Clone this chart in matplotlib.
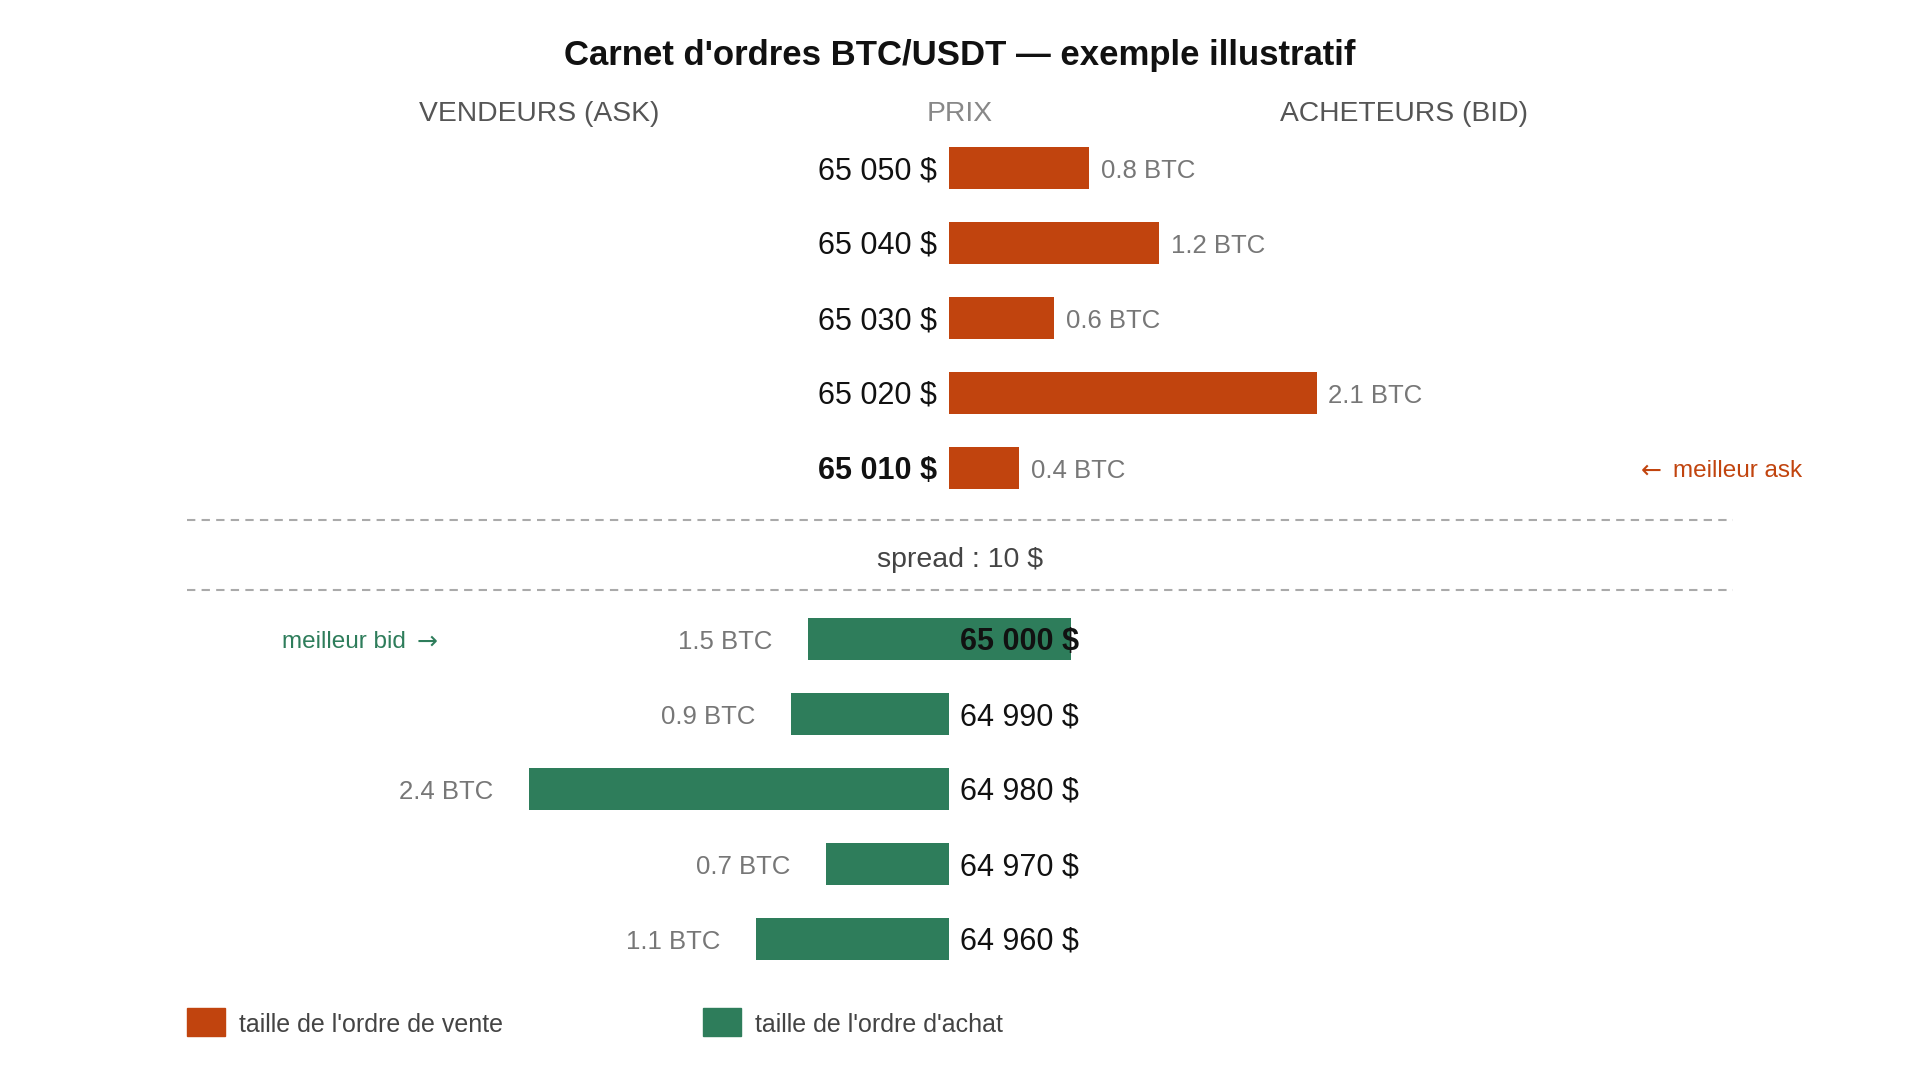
import matplotlib
matplotlib.use("Agg")
import matplotlib.pyplot as plt
from matplotlib.patches import Rectangle

# order book data
ask_prices = ["65 050 $", "65 040 $", "65 030 $", "65 020 $", "65 010 $"]
ask_sizes = [0.8, 1.2, 0.6, 2.1, 0.4]
bid_prices = ["65 000 $", "64 990 $", "64 980 $", "64 970 $", "64 960 $"]
bid_sizes = [1.5, 0.9, 2.4, 0.7, 1.1]
spread_label = "spread : 10 $"

ASK_COL = "#c1440e"
BID_COL = "#2e7d5b"

plt.rcParams['font.family'] = ['Liberation Sans', 'DejaVu Sans']

W, H = 1920, 1077
PX = 175.0      # pixels per BTC
X0 = 949.0      # centre line, px
DY = 3          # text nudge so glyphs sit centred on bars


def bx(px):
    return (px - X0) / PX


fig = plt.figure(figsize=(W / 100, H / 100), dpi=100)
ax = fig.add_axes([0, 0, 1, 1])
ax.set_xlim(bx(0), bx(W))
ax.set_ylim(H, 0)
ax.axis('off')

ask_y = [168 + 75 * i for i in range(len(ask_sizes))]
bid_y = [639 + 75 * i for i in range(len(bid_sizes))]
bh = 42

# asks
ax.barh(ask_y, ask_sizes, height=bh, left=0, color=ASK_COL)
for i, (p, s, y) in enumerate(zip(ask_prices, ask_sizes, ask_y)):
    best = i == len(ask_sizes) - 1
    ax.text(bx(937), y + DY, p, ha='right', va='center', fontsize=22, color='#111111',
            fontweight='bold' if best else 'normal')
    ax.text(s + 12 / PX, y + DY, f"{s} BTC", ha='left', va='center', fontsize=18.5, color='#777777')

# bids (the best bid bar is drawn slightly shifted in the original)
shift = [122 / PX, 0, 0, 0, 0]
lefts = [-s + d for s, d in zip(bid_sizes, shift)]
ax.barh(bid_y, bid_sizes, height=bh, left=lefts, color=BID_COL)
for i, (p, s, y, l) in enumerate(zip(bid_prices, bid_sizes, bid_y, lefts)):
    ax.text(bx(960), y + DY, p, ha='left', va='center', fontsize=22, color='#111111',
            fontweight='bold' if i == 0 else 'normal', zorder=5)
    ax.text(l - 36 / PX, y + DY, f"{s} BTC", ha='right', va='center', fontsize=18.5, color='#777777')

# spread lines
for yl in (520, 590):
    ax.plot([bx(187), bx(1733)], [yl, yl], color='#aaaaaa', lw=1.5, ls=(0, (4, 3)))
ax.text(bx(960), 557 + DY, spread_label, ha='center', va='center', fontsize=20.5, color='#444444')

# best ask / best bid markers
ax.text(bx(1641), ask_y[-1] + DY, "←", ha='left', va='center', fontsize=18,
        color=ASK_COL, family='DejaVu Sans')
ax.text(bx(1673), ask_y[-1] + DY, "meilleur ask", ha='left', va='center', fontsize=17.5, color=ASK_COL)
ax.text(bx(282), bid_y[0] + DY, "meilleur bid", ha='left', va='center', fontsize=17.5, color=BID_COL)
ax.text(bx(438), bid_y[0] + DY, "→", ha='right', va='center', fontsize=18,
        color=BID_COL, family='DejaVu Sans')

# headers
fig.text(960 / W, 1 - (53 + DY) / H, "Carnet d'ordres BTC/USDT — exemple illustratif",
         ha='center', va='center', fontsize=25, fontweight='bold', color='#111111')
fig.text(539 / W, 1 - (111 + DY) / H, "VENDEURS (ASK)", ha='center', va='center', fontsize=20.3, color='#555555')
fig.text(960 / W, 1 - (111 + DY) / H, "PRIX", ha='center', va='center', fontsize=20.3, color='#888888')
fig.text(1404 / W, 1 - (111 + DY) / H, "ACHETEURS (BID)", ha='center', va='center', fontsize=20.3, color='#555555')

# legend
for x_sq, col, lab in ((187, ASK_COL, "taille de l'ordre de vente"),
                       (703, BID_COL, "taille de l'ordre d'achat")):
    ax.add_patch(Rectangle((bx(x_sq), 1008), 38 / PX, 28, color=col))
    ax.text(bx(x_sq + 52), 1022 + DY, lab, ha='left', va='center', fontsize=18, color='#444444')

fig.savefig("out.png", dpi=100)
